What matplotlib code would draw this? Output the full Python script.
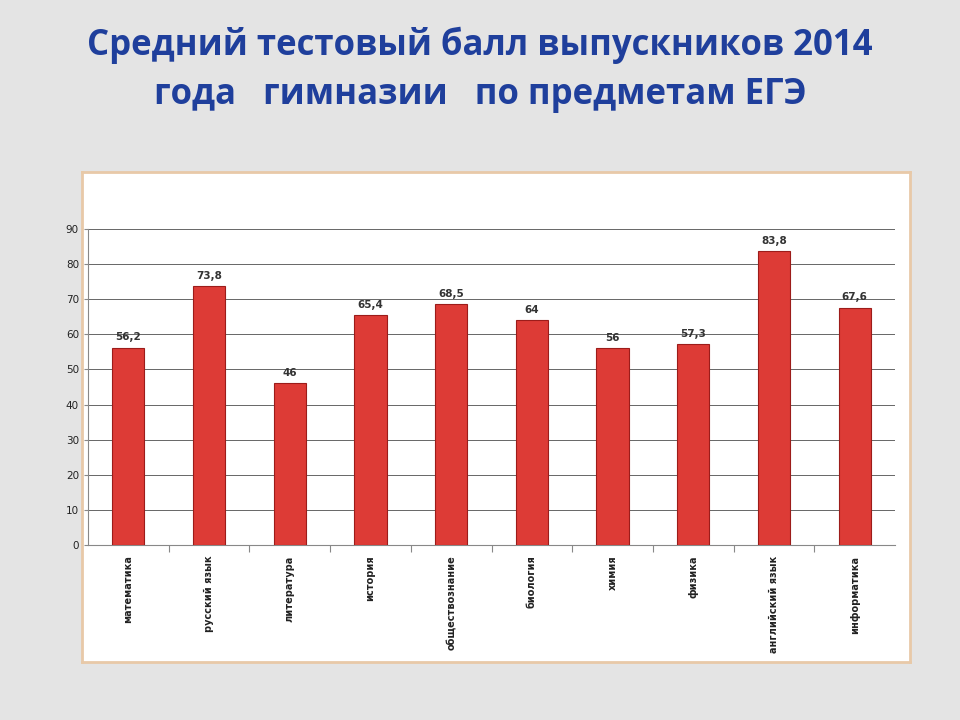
import matplotlib
matplotlib.use("Agg")
import matplotlib.pyplot as plt

subjects = ["математика", "русский язык", "литература", "история", "обществознание",
            "биология", "химия", "физика", "английский язык", "информатика"]
scores = [56.2, 73.8, 46, 65.4, 68.5, 64, 56, 57.3, 83.8, 67.6]
score_labels = ["56,2", "73,8", "46", "65,4", "68,5", "64", "56", "57,3", "83,8", "67,6"]
yticks = [0, 10, 20, 30, 40, 50, 60, 70, 80, 90]

fig = plt.figure(figsize=(9.6, 7.2), dpi=100, facecolor="#e4e4e4")

# white chart panel with beige frame, behind the plot axes
bg = fig.add_axes([82 / 960, 1 - 662 / 720, 828 / 960, 490 / 720], zorder=-1)
bg.set_facecolor("white")
bg.set_xticks([])
bg.set_yticks([])
for s in bg.spines.values():
    s.set_color("#e8c9a8")
    s.set_linewidth(2)

fig.text(0.5, 1 - 45 / 720, "Средний тестовый балл выпускников 2014", ha="center", va="center",
         fontsize=25, fontweight="bold", color="#1f3f9c", family="Open Sans")
fig.text(0.5, 1 - 95 / 720, "года   гимназии   по предметам ЕГЭ", ha="center", va="center",
         fontsize=25, fontweight="bold", color="#1f3f9c", family="Open Sans")

ax = fig.add_axes([88 / 960, 1 - 545 / 720, 807 / 960, 316 / 720])
ax.set_facecolor("white")
x = range(len(subjects))
ax.bar(x, scores, width=0.4, color="#dd3b36", edgecolor="#9c1c1a", linewidth=0.8, zorder=3)
for xi, v, lab in zip(x, scores, score_labels):
    ax.text(xi, v + 1.5, lab, ha="center", va="bottom", fontsize=7.5, fontweight="bold", color="#333333")

ax.set_xlim(-0.5, len(subjects) - 0.5)
ax.set_ylim(0, 90)
ax.set_yticks(yticks)
ax.tick_params(axis="y", labelsize=7.5, length=3, color="#888888", labelcolor="#222222")
ax.grid(axis="y", color="#666666", linewidth=0.7, zorder=0)
ax.set_xticks([i + 0.5 for i in range(len(subjects) - 1)])
ax.set_xticklabels([])
ax.tick_params(axis="x", length=5, color="#888888")
for s in ["top", "right"]:
    ax.spines[s].set_visible(False)
ax.spines["left"].set_color("#888888")
ax.spines["bottom"].set_color("#888888")
for xi, name in zip(x, subjects):
    ax.text(xi, -3, name, rotation=90, ha="center", va="top", fontsize=7, fontweight="bold",
            color="#222222")

fig.savefig("out.png", dpi=100, facecolor=fig.get_facecolor())
